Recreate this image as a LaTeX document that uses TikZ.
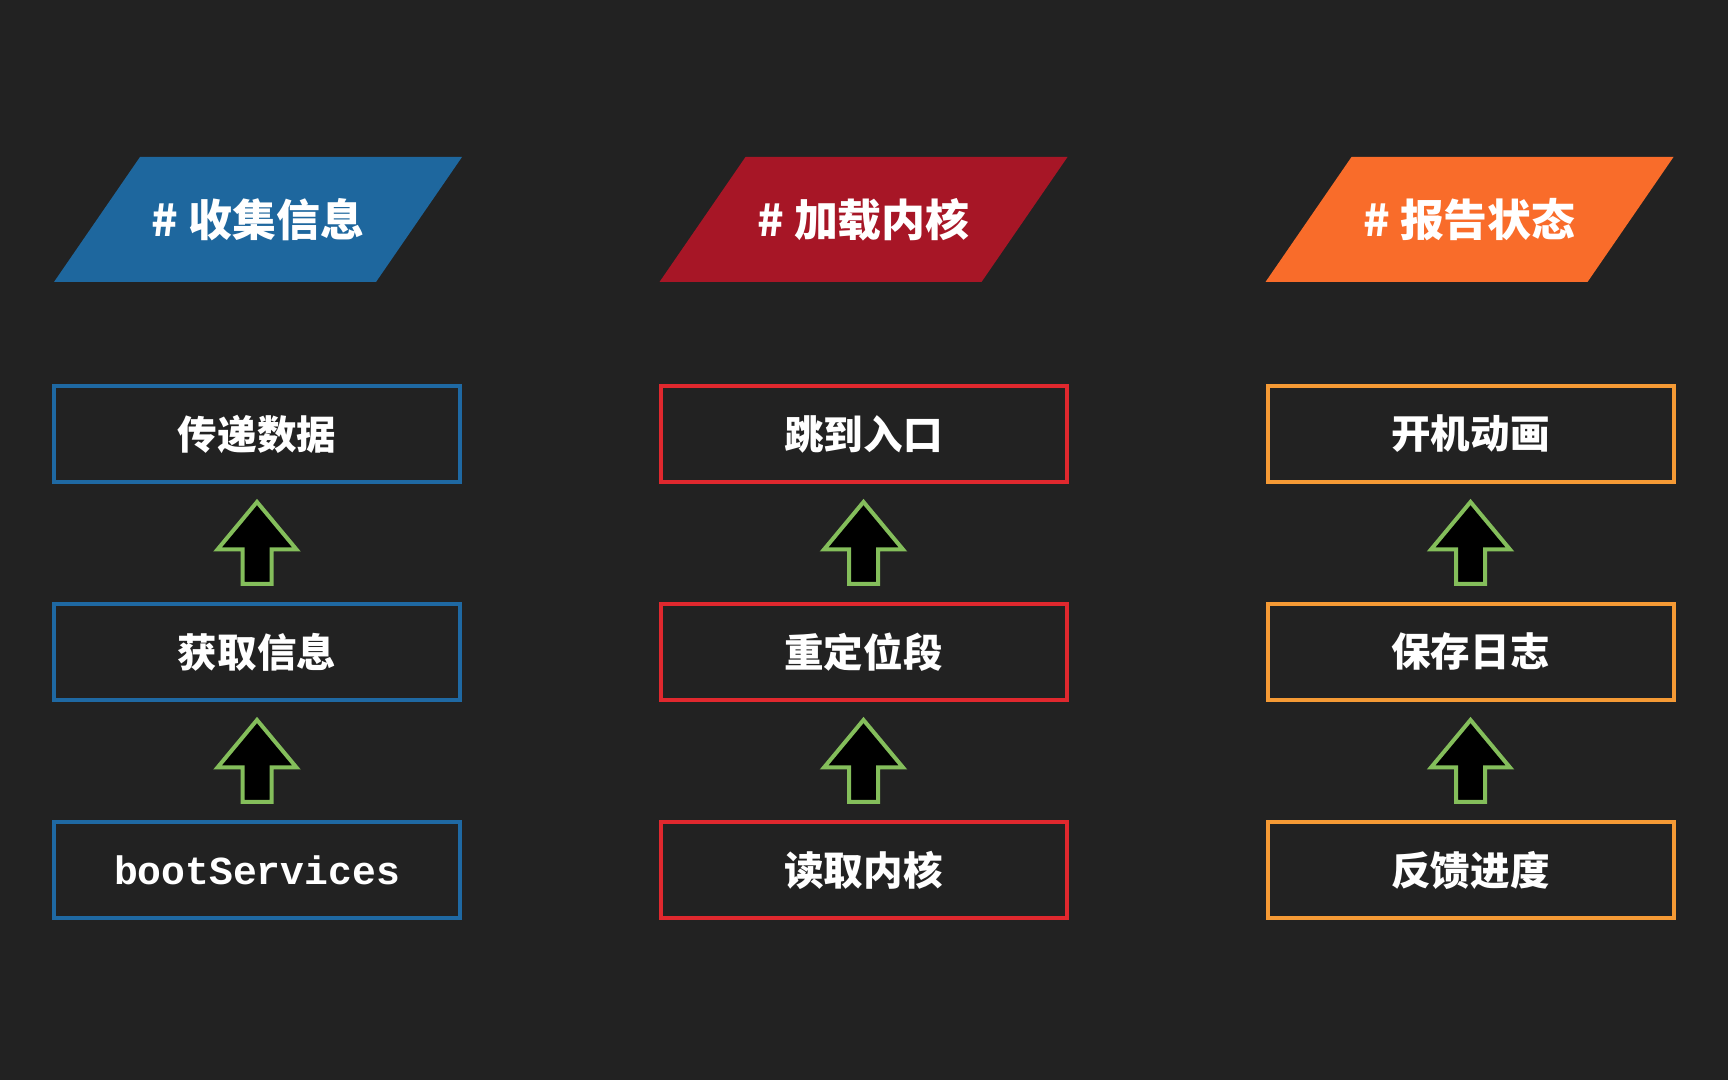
\documentclass[tikz,border=0pt]{standalone}
\usepackage{fontspec}
\usetikzlibrary{positioning,calc}
\newfontfamily\cjk{Noto Sans CJK SC}
\newfontfamily\codefont{Liberation Mono}
\definecolor{bgdark}{HTML}{222222}
\definecolor{headblue}{HTML}{1E679E}
\definecolor{boxblue}{HTML}{1F69A3}
\definecolor{headred}{HTML}{A71626}
\definecolor{boxred}{HTML}{E0282E}
\definecolor{headorange}{HTML}{F96C2A}
\definecolor{boxorange}{HTML}{F59A35}
\definecolor{arrowgreen}{HTML}{84BE5B}

\tikzset{
  stepbox/.style={draw=#1, line width=0.08cm, minimum width=8.12cm, minimum height=1.92cm,
    text=white, font=\cjk\bfseries\fontsize{22.5pt}{26pt}\selectfont},
  headtext/.style={text=white, font=\cjk\bfseries\fontsize{25pt}{28pt}\selectfont},
  blockline/.style={draw=arrowgreen, fill=black, line width=0.08cm, line join=miter},
  upblock/.pic={\draw[blockline] (0,0.82) -- (0.79,-0.13) -- (0.29,-0.13) -- (0.29,-0.82)
    -- (-0.29,-0.82) -- (-0.29,-0.13) -- (-0.79,-0.13) -- cycle;},
}

\begin{document}
\begin{tikzpicture}
        % ==== BACKGROUND ====
        \fill[bgdark] (0,0) rectangle (34.56,21.6);
        \useasboundingbox (0,0) rectangle (34.56,21.6);

        % ==== HEADERS ====
        \coordinate (h1c) at (5.16,17.21);
        \coordinate (h2c) at (17.27,17.21);
        \coordinate (h3c) at (29.39,17.21);
        \fill[headblue] ($(h1c)+(-4.08,-1.25)$) -- ++(6.44,0) -- ++(1.72,2.5) -- ++(-6.44,0) -- cycle;
        \fill[headred] ($(h2c)+(-4.08,-1.25)$) -- ++(6.44,0) -- ++(1.72,2.5) -- ++(-6.44,0) -- cycle;
        \fill[headorange] ($(h3c)+(-4.08,-1.25)$) -- ++(6.44,0) -- ++(1.72,2.5) -- ++(-6.44,0) -- cycle;
        \node[headtext] (h1) at (h1c) {\# 收集信息};
        \node[headtext] (h2) at (h2c) {\# 加载内核};
        \node[headtext] (h3) at (h3c) {\# 报告状态};

        % ==== COLUMN 1 ====
        \node[stepbox=boxblue] (c1top) at (5.14,12.92) {传递数据};
        \node[stepbox=boxblue, below=2.36cm of c1top] (c1mid) {获取信息};
        \node[stepbox=boxblue, below=2.36cm of c1mid, font=\codefont\bfseries\fontsize{22.6pt}{26pt}\selectfont] (c1bot) {bootServices};
        \pic at ($(c1mid.north)!0.5!(c1top.south)$) {upblock};
        \pic at ($(c1bot.north)!0.5!(c1mid.south)$) {upblock};

        % ==== COLUMN 2 ====
        \node[stepbox=boxred] (c2top) at (17.27,12.92) {跳到入口};
        \node[stepbox=boxred, below=2.36cm of c2top] (c2mid) {重定位段};
        \node[stepbox=boxred, below=2.36cm of c2mid] (c2bot) {读取内核};
        \pic at ($(c2mid.north)!0.5!(c2top.south)$) {upblock};
        \pic at ($(c2bot.north)!0.5!(c2mid.south)$) {upblock};

        % ==== COLUMN 3 ====
        \node[stepbox=boxorange] (c3top) at (29.41,12.92) {开机动画};
        \node[stepbox=boxorange, below=2.36cm of c3top] (c3mid) {保存日志};
        \node[stepbox=boxorange, below=2.36cm of c3mid] (c3bot) {反馈进度};
        \pic at ($(c3mid.north)!0.5!(c3top.south)$) {upblock};
        \pic at ($(c3bot.north)!0.5!(c3mid.south)$) {upblock};
\end{tikzpicture}
\end{document}
